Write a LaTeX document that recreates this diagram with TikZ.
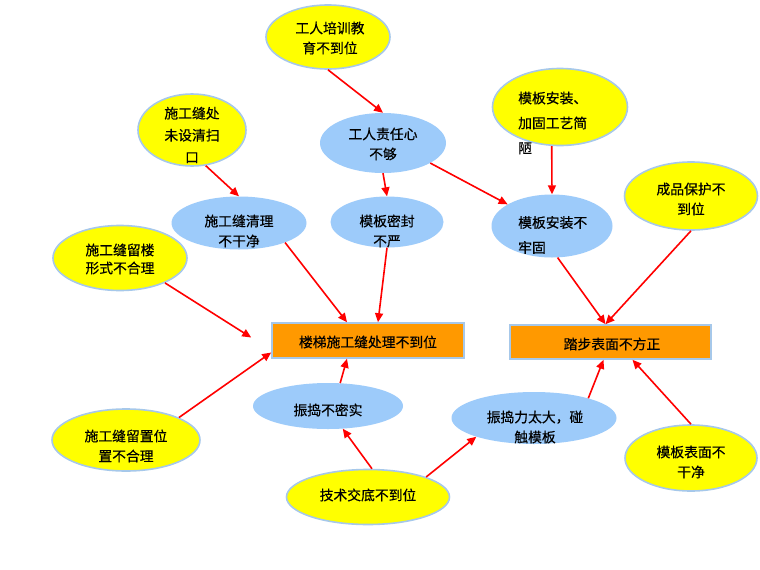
\documentclass[tikz,border=0pt]{standalone}
\usepackage{fontspec}
\newfontfamily\cjk[FakeBold=0.4]{Noto Sans CJK SC}
\usetikzlibrary{shapes.geometric,arrows.meta,calc}
\definecolor{ybl}{HTML}{FFFF00}
\definecolor{eborder}{HTML}{A6C8EA}
\definecolor{bfill}{HTML}{9DCBFA}
\definecolor{ofill}{HTML}{FF9900}
\definecolor{ared}{HTML}{FF0000}
\begin{document}
\begin{tikzpicture}[x=1pt,y=-1pt,
  yel/.style={ellipse,draw=eborder,line width=1.6pt,fill=ybl,inner sep=0pt},
  blu/.style={ellipse,fill=bfill,inner sep=0pt},
  box/.style={rectangle,draw=eborder,line width=1.6pt,fill=ofill,inner sep=0pt},
  txt/.style={font=\cjk\fontsize{13.8}{20}\selectfont,align=center,inner sep=0pt},
  ltxt/.style={font=\cjk\fontsize{13.8}{25}\selectfont,align=left,inner sep=0pt,anchor=west},
  arr/.style={draw=ared,line width=1.6pt,-{Triangle[length=9pt,width=8pt]}}
]
\fill[white] (0,0) rectangle (760,570);
\useasboundingbox (0,0) rectangle (760,570);

\node[yel,minimum width=124pt,minimum height=64pt] (e1) at (328,37) {};
\node[yel,minimum width=108pt,minimum height=72pt] (e2) at (192,130) {};
\node[blu,minimum width=126pt,minimum height=60pt] (e3) at (383,143) {};
\node[yel,minimum width=135pt,minimum height=77pt] (e4) at (560,107) {};
\node[blu,minimum width=135pt,minimum height=53pt] (e5) at (239,223) {};
\node[blu,minimum width=113pt,minimum height=51pt] (e6) at (387,222) {};
\node[blu,minimum width=121pt,minimum height=63pt] (e7) at (552,226) {};
\node[yel,minimum width=133pt,minimum height=68pt] (e8) at (691,196) {};
\node[yel,minimum width=134pt,minimum height=65pt] (e9) at (120,258) {};
\node[box,minimum width=192pt,minimum height=35pt] (b10) at (368,340.5) {};
\node[box,minimum width=201pt,minimum height=34pt] (b11) at (610.5,342) {};
\node[blu,minimum width=150pt,minimum height=46pt] (e12) at (328,406) {};
\node[yel,minimum width=148pt,minimum height=62pt] (e13) at (126,440) {};
\node[blu,minimum width=165pt,minimum height=52pt] (e14) at (534,418) {};
\node[yel,minimum width=132pt,minimum height=66pt] (e15) at (691,458) {};
\node[yel,minimum width=163pt,minimum height=55pt] (e16) at (368,497) {};

\node[txt] (t1) at (330,38) {工人培训教\\育不到位};
\node[txt,font=\cjk\fontsize{13.8}{22}\selectfont] (t2) at (192,135) {施工缝处\\未设清扫\\口};
\node[txt] (t3) at (383,144) {工人责任心\\不够};
\node[ltxt] (t4) at (518,123) {模板安装、\\加固工艺简\\陋};
\node[txt] (t5) at (239,231) {施工缝清理\\不干净};
\node[txt] (t6) at (387,231) {模板密封\\不严};
\node[ltxt] (t7) at (518,235) {模板安装不\\牢固};
\node[txt] (t8) at (691,199) {成品保护不\\到位};
\node[txt,font=\cjk\fontsize{13.8}{18}\selectfont] (t9) at (120,259) {施工缝留楼\\形式不合理};
\node[txt] (t10) at (368,342) {楼梯施工缝处理不到位};
\node[txt] (t11) at (612,344) {踏步表面不方正};
\node[txt] (t12) at (328,410) {振捣不密实};
\node[txt] (t13) at (126,446) {施工缝留置位\\置不合理};
\node[txt] (t14) at (535,427) {振捣力太大，碰\\触模板};
\node[txt] (t15) at (691,462) {模板表面不\\干净};
\node[txt] (t16) at (368,495) {技术交底不到位};

\draw[arr] (e1.south) -- (e3.north);
\draw[arr] (e2.-69) -- (e5.north);
\draw[arr] (e3.south) -- (e6.north);
\draw[arr] (e3.-23) -- (e7.154);
\draw[arr] (e4.-102) -- (e7.north);
\draw[arr] (e5.-23) -- ($(b10.north)+(-21pt,0)$);
\draw[arr] (e6.south) -- ($(b10.north)+(10pt,0)$);
\draw[arr] (e9.-29) -- ($(b10.west)+(-20pt,3pt)$);
\draw[arr] (e13.23) -- ($(b10.west)+(0,-12pt)$);
\draw[arr] (e12.62) -- ($(b10.south)+(-21pt,0)$);
\draw[arr] (e16.82) -- (e12.-57);
\draw[arr] (e16.19) -- (e14.198);
\draw[arr] (e14.20) -- ($(b11.south)+(-7pt,0)$);
\draw[arr] (e7.-80) -- ($(b11.north)+(-5pt,0)$);
\draw[arr] (e8.south) -- ($(b11.north)+(-5pt,0)$);
\draw[arr] (e15.north) -- ($(b11.south)+(22pt,0)$);
\end{tikzpicture}
\end{document}
